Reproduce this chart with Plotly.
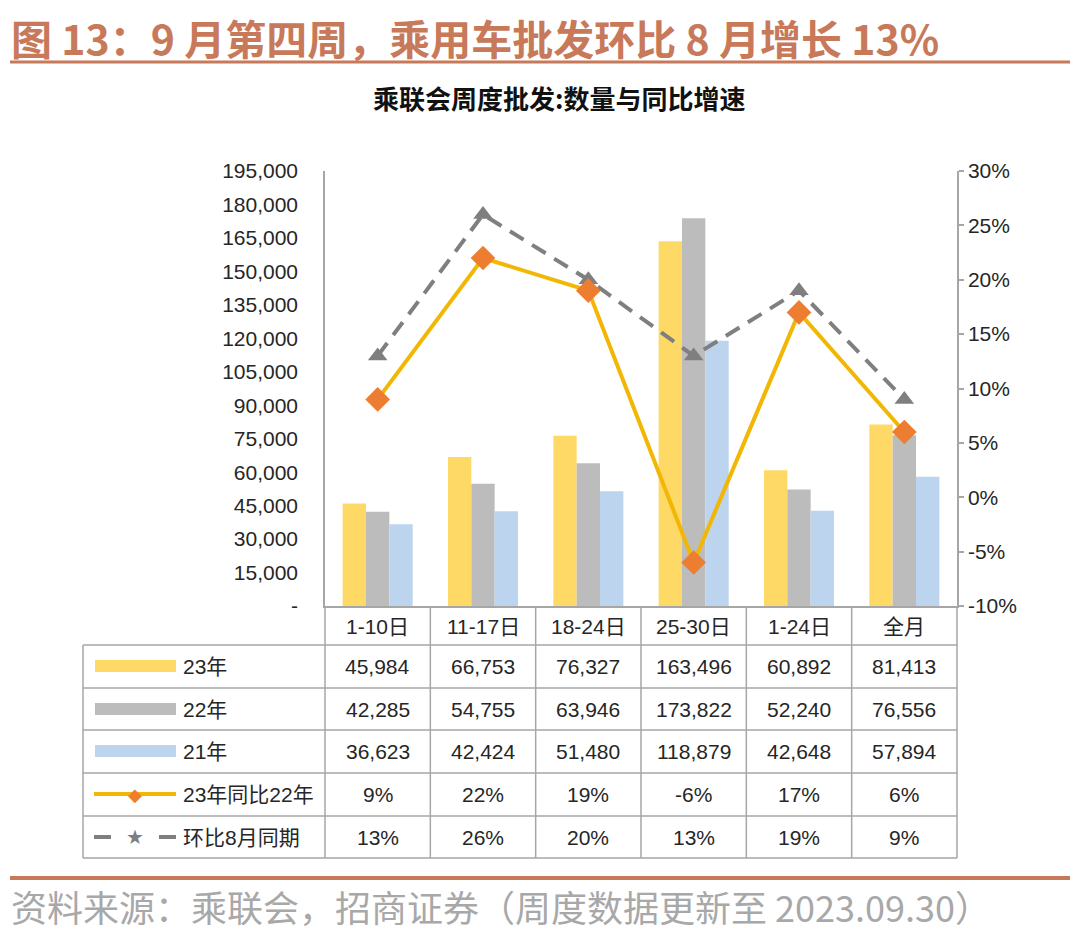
import plotly.graph_objects as go

# 乘联会周度批发数据（9月）
categories = ["1-10日", "11-17日", "18-24日", "25-30日", "1-24日", "全月"]
sales_23 = [45984, 66753, 76327, 163496, 60892, 81413]
sales_22 = [42285, 54755, 63946, 173822, 52240, 76556]
sales_21 = [36623, 42424, 51480, 118879, 42648, 57894]
yoy_23_22 = [0.09, 0.22, 0.19, -0.06, 0.17, 0.06]
mom_aug = [0.13, 0.26, 0.20, 0.13, 0.19, 0.09]

left_ticks = list(range(0, 195001, 15000))
right_ticks = [v / 100 for v in range(-10, 31, 5)]

# la página añade 8px de margen: la figura se reduce para caber en 1080x936
OFF = 8
W, H = 1080 - OFF, 936 - OFF
L, R, T, B = 325, 957, 171, 606   # área del gráfico en píxeles de la página

C_TITLE = "#C8795A"
C_23, C_22, C_21 = "#FFD966", "#BCBCBC", "#BDD4EE"
C_LINE, C_DIAM, C_DASH = "#F2B705", "#ED7D31", "#7F7F7F"
C_GRID = "#A6A6A6"
NUM_FONT = "Liberation Sans, Arial, Noto Sans CJK SC"
CJK_FONT = "Noto Sans CJK SC"


def px(x):
    return (x - L) / (R - L)


def py(y):
    return (B - y) / (B - T)


fig = go.Figure()

for nombre, valores, color in [("23年", sales_23, C_23), ("22年", sales_22, C_22), ("21年", sales_21, C_21)]:
    fig.add_trace(go.Bar(x=categories, y=valores, name=nombre, marker=dict(color=color, line=dict(width=0))))

fig.add_trace(go.Scatter(
    x=categories, y=mom_aug, yaxis="y2", name="环比8月同期", mode="lines+markers",
    line=dict(color=C_DASH, width=4, dash="16px,10px"),
    marker=dict(symbol="triangle-up", size=17, color=C_DASH)
))
fig.add_trace(go.Scatter(
    x=categories, y=yoy_23_22, yaxis="y2", name="23年同比22年", mode="lines+markers",
    line=dict(color=C_LINE, width=4),
    marker=dict(symbol="diamond", size=19, color=C_DIAM)
))

# tabla de datos bajo el gráfico
row_lines = [645, 688, 730, 773, 816, 858]
row_centers = [666, 709, 751, 794, 837]
col_edges = [L + i * (R - L) / 6 for i in range(7)]

shapes = []
line_style = dict(color=C_GRID, width=1.5)
for y in row_lines:
    shapes.append(dict(type="line", xref="paper", yref="paper", x0=px(83), x1=px(R), y0=py(y), y1=py(y), line=line_style))
for x in col_edges:
    shapes.append(dict(type="line", xref="paper", yref="paper", x0=px(x), x1=px(x), y0=py(B), y1=py(858), line=line_style))
shapes.append(dict(type="line", xref="paper", yref="paper", x0=px(83), x1=px(83), y0=py(645), y1=py(858), line=line_style))

# leyenda dentro de la tabla
for i, color in enumerate([C_23, C_22, C_21]):
    yc = row_centers[i]
    shapes.append(dict(type="rect", xref="paper", yref="paper", x0=px(95), x1=px(176), y0=py(yc + 6), y1=py(yc - 6),
                       fillcolor=color, line=dict(width=0)))
yc = row_centers[3]
shapes.append(dict(type="line", xref="paper", yref="paper", x0=px(94), x1=px(176), y0=py(yc), y1=py(yc),
                   line=dict(color=C_LINE, width=4)))
yc = row_centers[4]
for x0, x1 in [(94, 111), (159, 176)]:
    shapes.append(dict(type="line", xref="paper", yref="paper", x0=px(x0), x1=px(x1), y0=py(yc), y1=py(yc),
                       line=dict(color=C_DASH, width=4)))

# líneas decorativas de título y fuente
shapes.append(dict(type="line", xref="paper", yref="paper", x0=px(10), x1=px(1070), y0=py(62), y1=py(62),
                   line=dict(color=C_TITLE, width=3)))
shapes.append(dict(type="line", xref="paper", yref="paper", x0=px(10), x1=px(1070), y0=py(878), y1=py(878),
                   line=dict(color=C_TITLE, width=4)))

annotations = []
cell_font = dict(family=NUM_FONT, size=21, color="#262626")
for j, cat in enumerate(categories):
    annotations.append(dict(x=cat, xref="x", y=py(626), yref="paper", text=cat, showarrow=False,
                            xanchor="center", yanchor="middle", font=cell_font))
    fila = [f"{sales_23[j]:,}", f"{sales_22[j]:,}", f"{sales_21[j]:,}", f"{yoy_23_22[j]:.0%}", f"{mom_aug[j]:.0%}"]
    for k, texto in enumerate(fila):
        annotations.append(dict(x=cat, xref="x", y=py(row_centers[k]), yref="paper", text=texto,
                                showarrow=False, xanchor="center", yanchor="middle", font=cell_font))

for k, etiqueta in enumerate(["23年", "22年", "21年", "23年同比22年", "环比8月同期"]):
    annotations.append(dict(x=px(181), xref="paper", xanchor="left", y=py(row_centers[k]), yref="paper",
                            yanchor="middle", text=etiqueta, showarrow=False, font=cell_font))
annotations.append(dict(x=px(135), xref="paper", y=py(row_centers[3]), yref="paper", text="◆",
                        xanchor="center", yanchor="middle", showarrow=False,
                        font=dict(family="DejaVu Sans", size=18, color=C_DIAM)))
annotations.append(dict(x=px(135), xref="paper", y=py(row_centers[4]), yref="paper", text="★",
                        xanchor="center", yanchor="middle", showarrow=False,
                        font=dict(family="DejaVu Sans", size=20, color=C_DASH)))

annotations.append(dict(x=px(10), xref="paper", xanchor="left", y=py(37), yref="paper", yanchor="middle",
                        text="<b>图 13：9 月第四周，乘用车批发环比 8 月增长 13%</b>", showarrow=False,
                        borderpad=0, font=dict(family=CJK_FONT, size=41, color=C_TITLE)))
annotations.append(dict(x=px(559), xref="paper", xanchor="center", y=py(97), yref="paper", yanchor="middle",
                        text="<b>乘联会周度批发:数量与同比增速</b>", showarrow=False,
                        font=dict(family=CJK_FONT, size=26, color="#111111")))
annotations.append(dict(x=px(10), xref="paper", xanchor="left", y=py(906), yref="paper", yanchor="middle",
                        text="资料来源：乘联会，招商证券（周度数据更新至 2023.09.30）", showarrow=False,
                        borderpad=0, font=dict(family=CJK_FONT, size=36, color="#A8A8A8")))

fig.update_layout(
    width=W, height=H,
    margin=dict(l=L - OFF, r=W - (R - OFF), t=T - OFF, b=H - (B - OFF), pad=0),
    plot_bgcolor="white", paper_bgcolor="white",
    showlegend=False,
    barmode="group", bargap=0.335, bargroupgap=0,
    xaxis=dict(range=[-0.5, 5.5], showticklabels=False, ticks="", showgrid=False,
               showline=True, linecolor=C_GRID, linewidth=1.5, zeroline=False, fixedrange=True),
    yaxis=dict(range=[0, 195000], tickvals=left_ticks,
               ticktext=["-" if v == 0 else f"{v:,}" for v in left_ticks],
               showgrid=False, zeroline=False, showline=True, linecolor=C_GRID, linewidth=1.5,
               ticks="", ticklabelstandoff=21, tickfont=dict(family=NUM_FONT, size=21, color="#262626")),
    yaxis2=dict(range=[-0.10, 0.30], overlaying="y", side="right", tickvals=right_ticks,
                ticktext=[f"{v:.0%}" for v in right_ticks],
                showgrid=False, zeroline=False, showline=True, linecolor=C_GRID, linewidth=1.5,
                ticks="outside", ticklen=5, tickcolor=C_GRID, tickwidth=1.5, ticklabelstandoff=0,
                tickfont=dict(family=NUM_FONT, size=21, color="#262626")),
    shapes=shapes,
    annotations=annotations,
)

fig.write_html("out.html")
